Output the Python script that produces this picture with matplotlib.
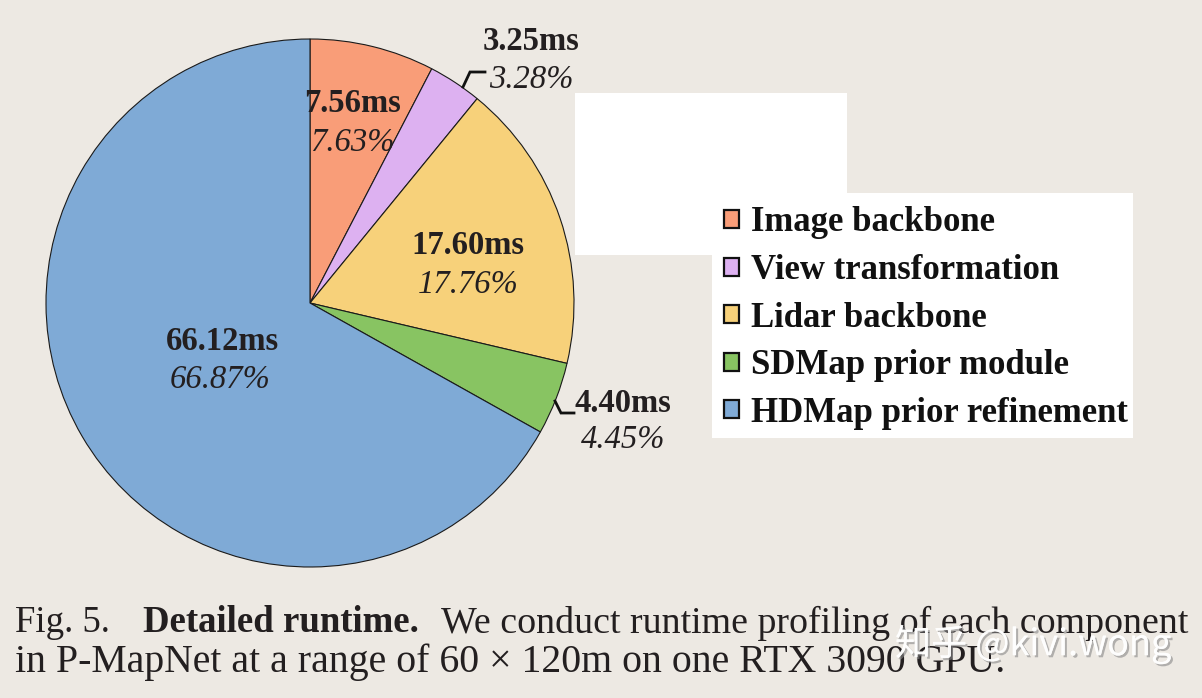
import matplotlib
matplotlib.use("Agg")
import matplotlib.pyplot as plt
from matplotlib.patches import Rectangle
import matplotlib.patheffects as pe

# ---- data ----
components = ["Image backbone", "View transformation", "Lidar backbone",
              "SDMap prior module", "HDMap prior refinement"]
runtime_ms = [7.56, 3.25, 17.60, 4.40, 66.12]
percent = [7.63, 3.28, 17.76, 4.45, 66.87]
colors = ["#F99D78", "#DDB1F1", "#F7D17A", "#88C462", "#7FAAD6"]

BG = "#EDE9E3"
TXT = "#231F20"
W, H = 1202, 698
DPI = 100

fig = plt.figure(figsize=(W / DPI, H / DPI), dpi=DPI, facecolor=BG)

# pie axes: centre (310, 303) px, radius 264 px
cx, cy, R = 310, 303, 264
ax = fig.add_axes([(cx - R) / W, (H - cy - R) / H, 2 * R / W, 2 * R / H])
ax.set_facecolor("none")
wedges, _ = ax.pie(percent, colors=colors, startangle=90, counterclock=False,
                   radius=1.0,
                   wedgeprops=dict(edgecolor="#1a1a1a", linewidth=0.8))
ax.set_xlim(-1, 1)
ax.set_ylim(-1, 1)
ax.set_aspect("equal")
ax.axis("off")

serif = ["Liberation Serif", "DejaVu Serif"]


def px2d(px, py):
    return (px - cx) / R, (cy - py) / R


# label layout (pixel centres of the ms line, percent line)
label_pos = [((352, 104), (352, 143)),
             ((531, 42), (531, 80)),
             ((468, 246), (468, 285)),
             ((623, 404), (623, 440)),
             ((222, 342), (220, 380))]
for ms, pc, (p1, p2) in zip(runtime_ms, percent, label_pos):
    ax.text(*px2d(*p1), f"{ms:.2f}ms", ha="center", va="center",
            fontsize=23.5, fontweight="bold", family=serif, color=TXT,
            clip_on=False)
    ax.text(*px2d(*p2), f"{pc:.2f}%", ha="center", va="center",
            fontsize=23.5, fontstyle="italic", family=serif, color=TXT,
            clip_on=False)

# leader lines
for pts in [[(463, 87), (470, 72), (485, 72)],
            [(555, 401), (561, 413), (574, 413)]]:
    xs, ys = zip(*[px2d(*p) for p in pts])
    ax.plot(xs, ys, color="#111111", lw=2, clip_on=False,
            solid_joinstyle="miter")

# white boxes
fig.patches.append(Rectangle((575 / W, 1 - 255 / H), (847 - 575) / W,
                             (255 - 93) / H, transform=fig.transFigure,
                             facecolor="white", edgecolor="none", zorder=0))
fig.patches.append(Rectangle((712 / W, 1 - 438 / H), (1133 - 712) / W,
                             (438 - 193) / H, transform=fig.transFigure,
                             facecolor="white", edgecolor="none", zorder=0))

# legend
handles = [Rectangle((0, 0), 1, 1, facecolor=c, edgecolor="#111111", lw=1.6)
           for c in colors]
leg = fig.legend(handles, components, loc="upper left",
                 bbox_to_anchor=(707 / W, 1 - 189 / H),
                 frameon=False, handlelength=0.42, handleheight=0.42,
                 handletextpad=0.36, labelspacing=0.42, borderpad=0,
                 prop=dict(family=serif, weight="bold", size=25))
for t in leg.get_texts():
    t.set_color("#111111")

# caption
cap_fs = 26.5
y1 = 1 - 623 / H
y2 = 1 - 662 / H
fig.text(15 / W, y1, "Fig. 5.", ha="left", va="center", fontsize=cap_fs,
         family=serif, color=TXT)
fig.text(143 / W, y1, "Detailed runtime.", ha="left", va="center",
         fontsize=cap_fs, family=serif, fontweight="bold", color=TXT)
fig.text(441 / W, y1, "We conduct runtime profiling of each component",
         ha="left", va="center", fontsize=cap_fs * 1.03, family=serif,
         color=TXT)
fig.text(15 / W, y2,
         "in P-MapNet at a range of 60 \u00d7 120m on one RTX 3090 GPU.",
         ha="left", va="center", fontsize=cap_fs * 1.08, family=serif,
         color=TXT)

# watermark
fig.text(895 / W, 1 - 644 / H, "知乎 @kivi.wong", ha="left", va="center",
         fontsize=26, family=["Noto Sans CJK SC", "DejaVu Sans"],
         color="white", alpha=0.85,
         path_effects=[pe.withSimplePatchShadow(offset=(1.5, -1.5),
                                                shadow_rgbFace="#888888",
                                                alpha=0.6), pe.Normal()])

fig.savefig("out.png", dpi=DPI, facecolor=BG)
